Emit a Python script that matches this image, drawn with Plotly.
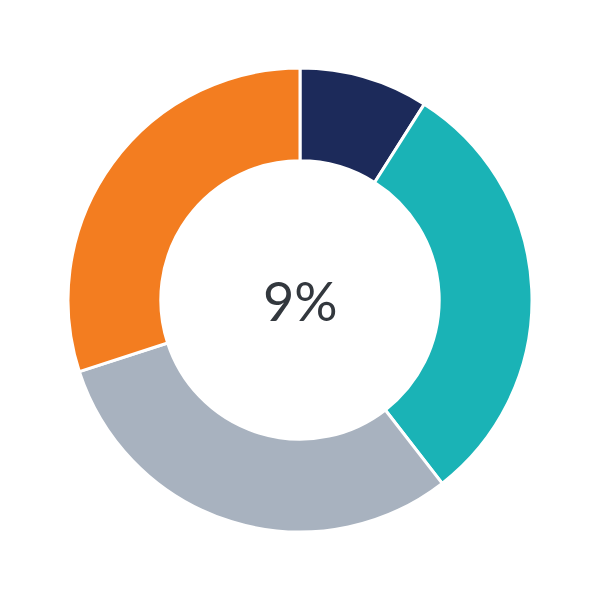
import plotly.graph_objects as go

# share of each group, clockwise from 12 o'clock
labels = ["Navy", "Teal", "Gray", "Orange"]
values = [9, 30.5, 30.5, 30]
colors = ["#1c2a5a", "#1ab3b6", "#a8b2bf", "#f37d20"]
center_text = "9%"

fig = go.Figure(go.Pie(
    labels=labels,
    values=values,
    hole=0.6,
    sort=False,
    direction="clockwise",
    rotation=0,
    textinfo="none",
    hoverinfo="none",
    marker=dict(colors=colors, line=dict(color="white", width=3)),
    showlegend=False,
))

fig.add_annotation(
    text=center_text, x=0.5, y=0.5, xref="paper", yref="paper",
    showarrow=False,
    font=dict(family="Lato", size=54, color="#33383e", weight=400),
)

# page body adds 8px, so shift the pie up/left to keep it centred
fig.update_layout(
    width=600, height=600,
    margin=dict(l=60, r=76, t=60, b=76),
    paper_bgcolor="white",
    plot_bgcolor="white",
)

fig.write_html("out.html")
